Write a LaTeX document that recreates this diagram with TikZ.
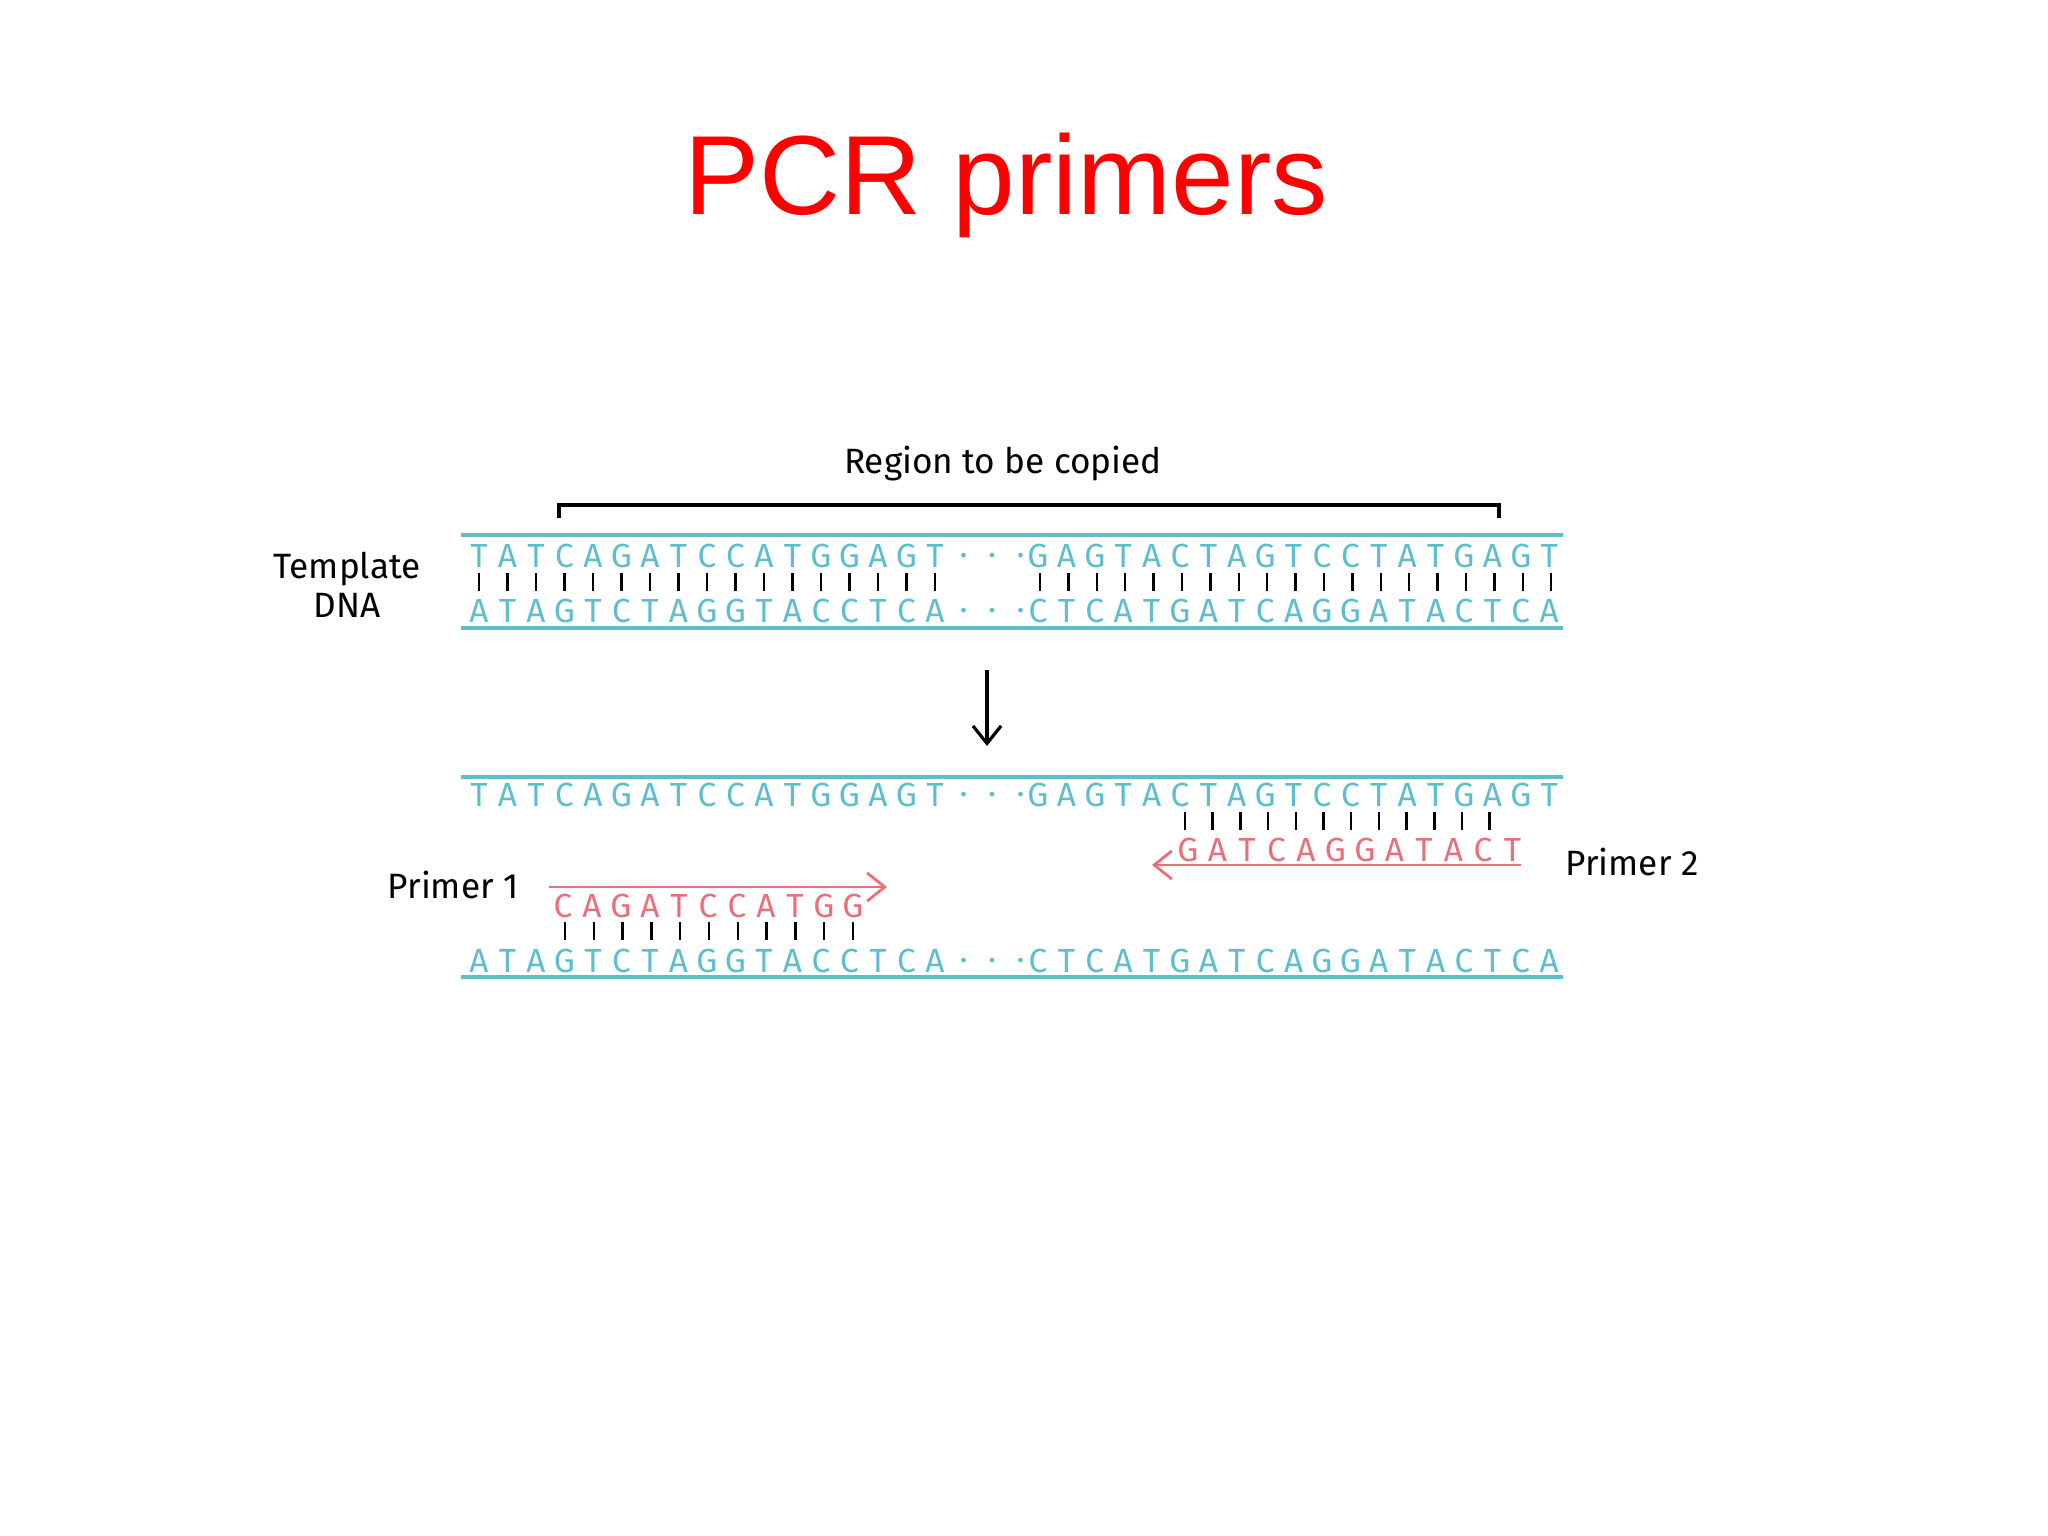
\documentclass[tikz,border=0pt]{standalone}
\usepackage{fontspec}
\setmainfont{Liberation Sans}
\newfontfamily\hand{Fira Sans}
\usetikzlibrary{arrows.meta}
\definecolor{dnac}{RGB}{95,190,205}
\definecolor{prc}{RGB}{232,112,122}
\newcommand{\dnarow}[5]{\path foreach \c [count=\k from 0] in {#4} {node[#5] at ({#1+\k*#3},#2) {\c}};}
\newcommand{\dnaticks}[4]{\draw[tick] foreach \k in {0,...,#4} {({#1+\k*#3},{#2-9}) -- ({#1+\k*#3},{#2+9})};}
\begin{document}
\begin{tikzpicture}[x=0.01cm,y=-0.01cm,
  base/.style={font=\hand\fontsize{9.5pt}{9pt}\selectfont,text=dnac,inner sep=0},
  pbase/.style={font=\hand\fontsize{9.5pt}{9pt}\selectfont,text=prc,inner sep=0},
  lbl/.style={font=\hand\fontsize{10pt}{11pt}\selectfont,inner sep=0,align=center},
  strand/.style={draw=dnac,line width=1pt},
  tick/.style={line width=0.7pt},
  parrow/.style={draw=prc,line width=0.8pt,-{Straight Barb[length=5pt,width=8pt]}}]
\useasboundingbox (0,0) rectangle (2048,1536);
\node[text=red,font=\fontsize{32pt}{32pt}\selectfont] (title) at (1006,185) {PCR primers};
% template
\node[lbl] (region) at (1003,464) {Region to be copied};
\draw[line width=0.9pt] (559,518) -- (559,505) -- (1499,505) -- (1499,518);
\node[lbl] (tdna) at (347,585) {Template\\DNA};
\draw[strand] (461,535) -- (1563,535);
\draw[strand] (461,628) -- (1563,628);
\dnarow{479}{556}{28.5}{T,A,T,C,A,G,A,T,C,C,A,T,G,G,A,G,T,.,.,.}{base}
\dnarow{1038}{556}{28.4}{G,A,G,T,A,C,T,A,G,T,C,C,T,A,T,G,A,G,T}{base}
\dnaticks{479}{582}{28.5}{16}
\dnaticks{1040}{582}{28.4}{18}
\dnarow{479}{611}{28.5}{A,T,A,G,T,C,T,A,G,G,T,A,C,C,T,C,A,.,.,.}{base}
\dnarow{1038}{611}{28.4}{C,T,C,A,T,G,A,T,C,A,G,G,A,T,A,C,T,C,A}{base}
% arrow
\coordinate (a1) at (987,670); \coordinate (a2) at (987,746);
\draw[line width=0.9pt,-{Straight Barb[length=5pt,width=8pt]}] (a1) -- (a2);
% second block
\draw[strand] (461,777) -- (1563,777);
\draw[strand] (461,977) -- (1563,977);
\dnarow{479}{795}{28.5}{T,A,T,C,A,G,A,T,C,C,A,T,G,G,A,G,T,.,.,.}{base}
\dnarow{1038}{795}{28.4}{G,A,G,T,A,C,T,A,G,T,C,C,T,A,T,G,A,G,T}{base}
\dnaticks{1185}{821}{27.7}{11}
\dnarow{1188}{850}{29.5}{G,A,T,C,A,G,G,A,T,A,C,T}{pbase}
\coordinate (p2s) at (1521,865); \coordinate (p2e) at (1152,865);
\draw[parrow] (p2s) -- (p2e);
\node[lbl] (pr2) at (1632,862) {Primer 2};
\node[lbl] (pr1) at (453,885) {Primer 1};
\coordinate (p1s) at (549,887); \coordinate (p1e) at (887,887);
\draw[parrow] (p1s) -- (p1e);
\dnarow{563}{906}{29}{C,A,G,A,T,C,C,A,T,G,G}{pbase}
\dnaticks{565}{931}{28.8}{10}
\dnarow{479}{961}{28.5}{A,T,A,G,T,C,T,A,G,G,T,A,C,C,T,C,A,.,.,.}{base}
\dnarow{1038}{961}{28.4}{C,T,C,A,T,G,A,T,C,A,G,G,A,T,A,C,T,C,A}{base}
\end{tikzpicture}
\end{document}
